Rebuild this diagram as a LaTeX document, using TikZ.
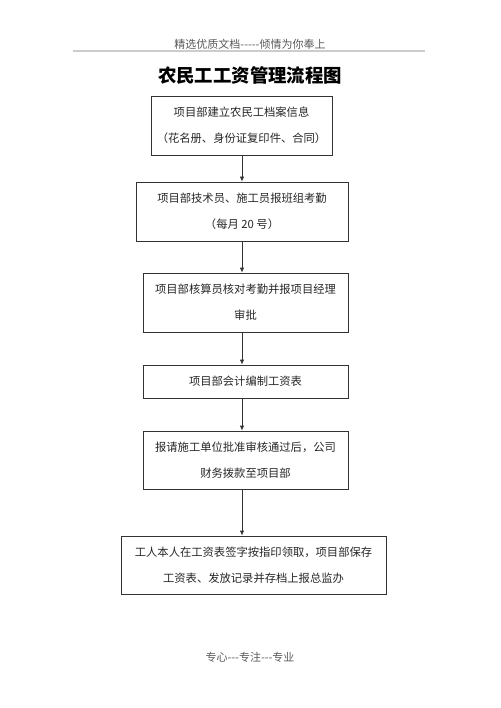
\documentclass[tikz,border=0pt]{standalone}
\usepackage{fontspec}
\setmainfont{Noto Sans CJK SC}[Ligatures=TeXOff]
\usetikzlibrary{arrows.meta}
\begin{document}
\begin{tikzpicture}[x=1pt,y=-1pt,
  box/.style={draw=black!80,line width=0.8pt,inner sep=0pt,align=center,
    font=\fontsize{11.3}{26}\selectfont,text=black!85},
  arr/.style={draw=black!80,line width=0.8pt,-{Latex[length=5pt,width=4.5pt]}},
  note/.style={font=\fontsize{11}{13}\selectfont,text=black!65}]
\useasboundingbox (0,0) rectangle (500,708);
\node[note] (head) at (250,44) {精选优质文档-----倾情为你奉上};
\draw[black!20,line width=1.5pt] (73,51) -- (425,51);
\node[font=\fontsize{18.4}{20}\bfseries] (title) at (250,75) {农民工工资管理流程图};
\node[box,minimum width=181,minimum height=59] (b1) at (241.5,125.5)
  {项目部建立农民工档案信息\\（花名册、身份证复印件、合同）};
\node[box,minimum width=212,minimum height=59] (b2) at (242,211.5)
  {项目部技术员、施工员报班组考勤\\（每月 20 号）};
\node[box,minimum width=205,minimum height=59] (b3) at (245.5,302.5)
  {项目部核算员核对考勤并报项目经理\\审批};
\node[box,minimum width=205,minimum height=33] (b4) at (245.5,381.5)
  {项目部会计编制工资表};
\node[box,minimum width=205,minimum height=58] (b5) at (245.5,460)
  {报请施工单位批准审核通过后，公司\\财务拨款至项目部};
\node[box,minimum width=265,minimum height=58] (b6) at (253.5,565)
  {工人本人在工资表签字按指印领取，项目部保存\\工资表、发放记录并存档上报总监办};
\node[note] (foot) at (250,657) {专心---专注---专业};
\coordinate (ax) at (242,0);
\foreach \a/\b in {b1/b2,b2/b3,b3/b4,b4/b5,b5/b6}
  \draw[arr] (\a.south -| ax) -- (\b.north -| ax);
\end{tikzpicture}
\end{document}
